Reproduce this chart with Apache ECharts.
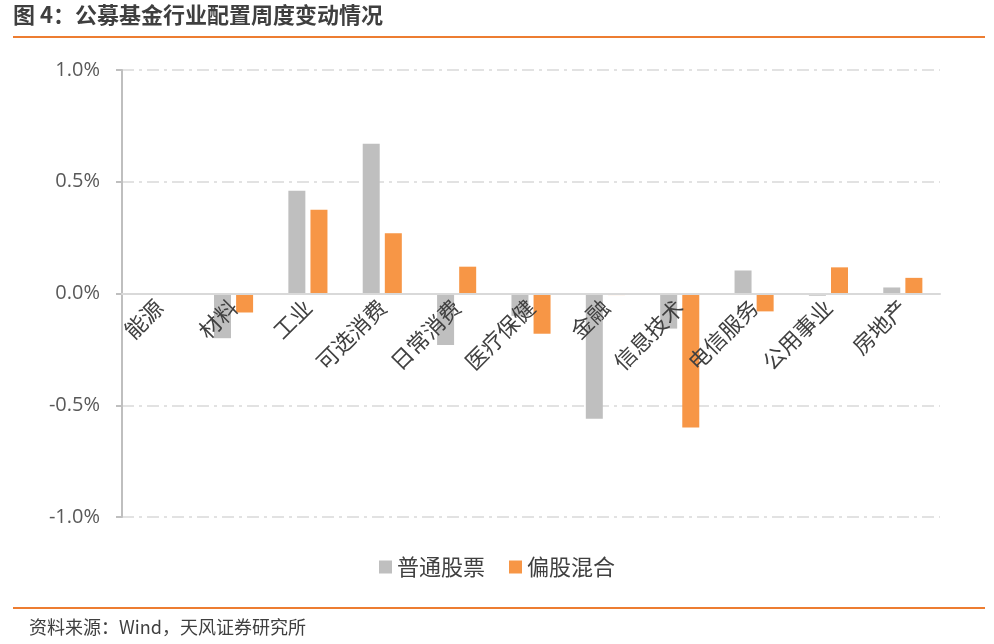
<!DOCTYPE html>
<html>
<head>
    <meta charset="utf-8">
    <title>公募基金行业配置周度变动情况</title>
    <script src="https://cdn.jsdelivr.net/npm/echarts@6/dist/echarts.min.js"></script>
    <style>
        body { margin: 0; background: #fff; }
    </style>
</head>
<body>
    <div id="main" style="width: 994px;height:644px;"></div>

    <script type="text/javascript">
        // 行业分类
        var categories = ['能源', '材料', '工业', '可选消费', '日常消费', '医疗保健', '金融', '信息技术', '电信服务', '公用事业', '房地产'];
        // 周度变动（%）
        var stockFund = [0, -0.20, 0.46, 0.67, -0.23, -0.10, -0.56, -0.157, 0.103, -0.01, 0.027];
        var mixedFund = [0, -0.085, 0.375, 0.27, 0.12, -0.18, -0.007, -0.60, -0.08, 0.117, 0.07];
        var yTicks = { min: -1, max: 1, interval: 0.5 };

        var myChart = echarts.init(document.getElementById('main'));

        // 绘图区高度 447，零线在正中，x 轴整体上移到零线
        var gridTop = 70, gridBottom = 127;
        var zeroOffset = -(644 - gridTop - gridBottom) / 2;

        var option = {
            animation: false,
            backgroundColor: '#fff',
            textStyle: { fontFamily: 'Noto Sans CJK SC' },
            graphic: [
                {
                    type: 'text', left: 13, top: 4,
                    style: { text: '图 4：公募基金行业配置周度变动情况', fill: '#3F3F3F', font: 'bold 22px "Noto Sans CJK SC"' }
                },
                {
                    type: 'rect', shape: { x: 13, y: 36, width: 972, height: 2 },
                    style: { fill: '#ED7D31' }
                },
                {
                    type: 'rect', shape: { x: 13, y: 607, width: 972, height: 2 },
                    style: { fill: '#ED7D31' }
                },
                {
                    type: 'text', left: 29, top: 618,
                    style: { text: '资料来源：Wind，天风证券研究所', fill: '#3F3F3F', font: '18px "Noto Sans CJK SC"' }
                }
            ],
            legend: {
                data: ['普通股票', '偏股混合'],
                top: 551,
                left: 'center',
                icon: 'rect',
                itemWidth: 13,
                itemHeight: 13,
                itemGap: 24,
                textStyle: { fontSize: 22, color: '#404040' }
            },
            grid: { left: 122, right: 54, top: gridTop, bottom: gridBottom, containLabel: false },
            xAxis: {
                type: 'category',
                data: categories,
                offset: zeroOffset,
                z: 5,
                axisLine: { onZero: false, lineStyle: { color: '#D9D9D9', width: 2 } },
                axisTick: { show: false },
                axisLabel: {
                    interval: 0,
                    rotate: 45,
                    margin: 10,
                    fontSize: 22,
                    color: '#404040'
                }
            },
            yAxis: {
                type: 'value',
                min: yTicks.min,
                max: yTicks.max,
                interval: yTicks.interval,
                axisLine: { show: true, lineStyle: { color: '#BFBFBF', width: 2 } },
                axisTick: { show: true, length: 6, lineStyle: { color: '#BFBFBF', width: 2 } },
                axisLabel: {
                    fontSize: 20,
                    color: '#595959',
                    margin: 22,
                    fontFamily: 'Open Sans',
                    formatter: function (v) { return v.toFixed(1) + '%'; }
                },
                splitLine: { lineStyle: { color: '#D9D9D9', width: 1.5, type: [12, 5, 3, 5] } }
            },
            series: [
                {
                    name: '普通股票',
                    type: 'bar',
                    data: stockFund,
                    barWidth: 17,
                    barGap: '30%',
                    itemStyle: { color: '#BFBFBF' }
                },
                {
                    name: '偏股混合',
                    type: 'bar',
                    data: mixedFund,
                    barWidth: 17,
                    itemStyle: { color: '#F79646' }
                }
            ]
        };

        myChart.setOption(option);
    </script>
</body>
</html>
